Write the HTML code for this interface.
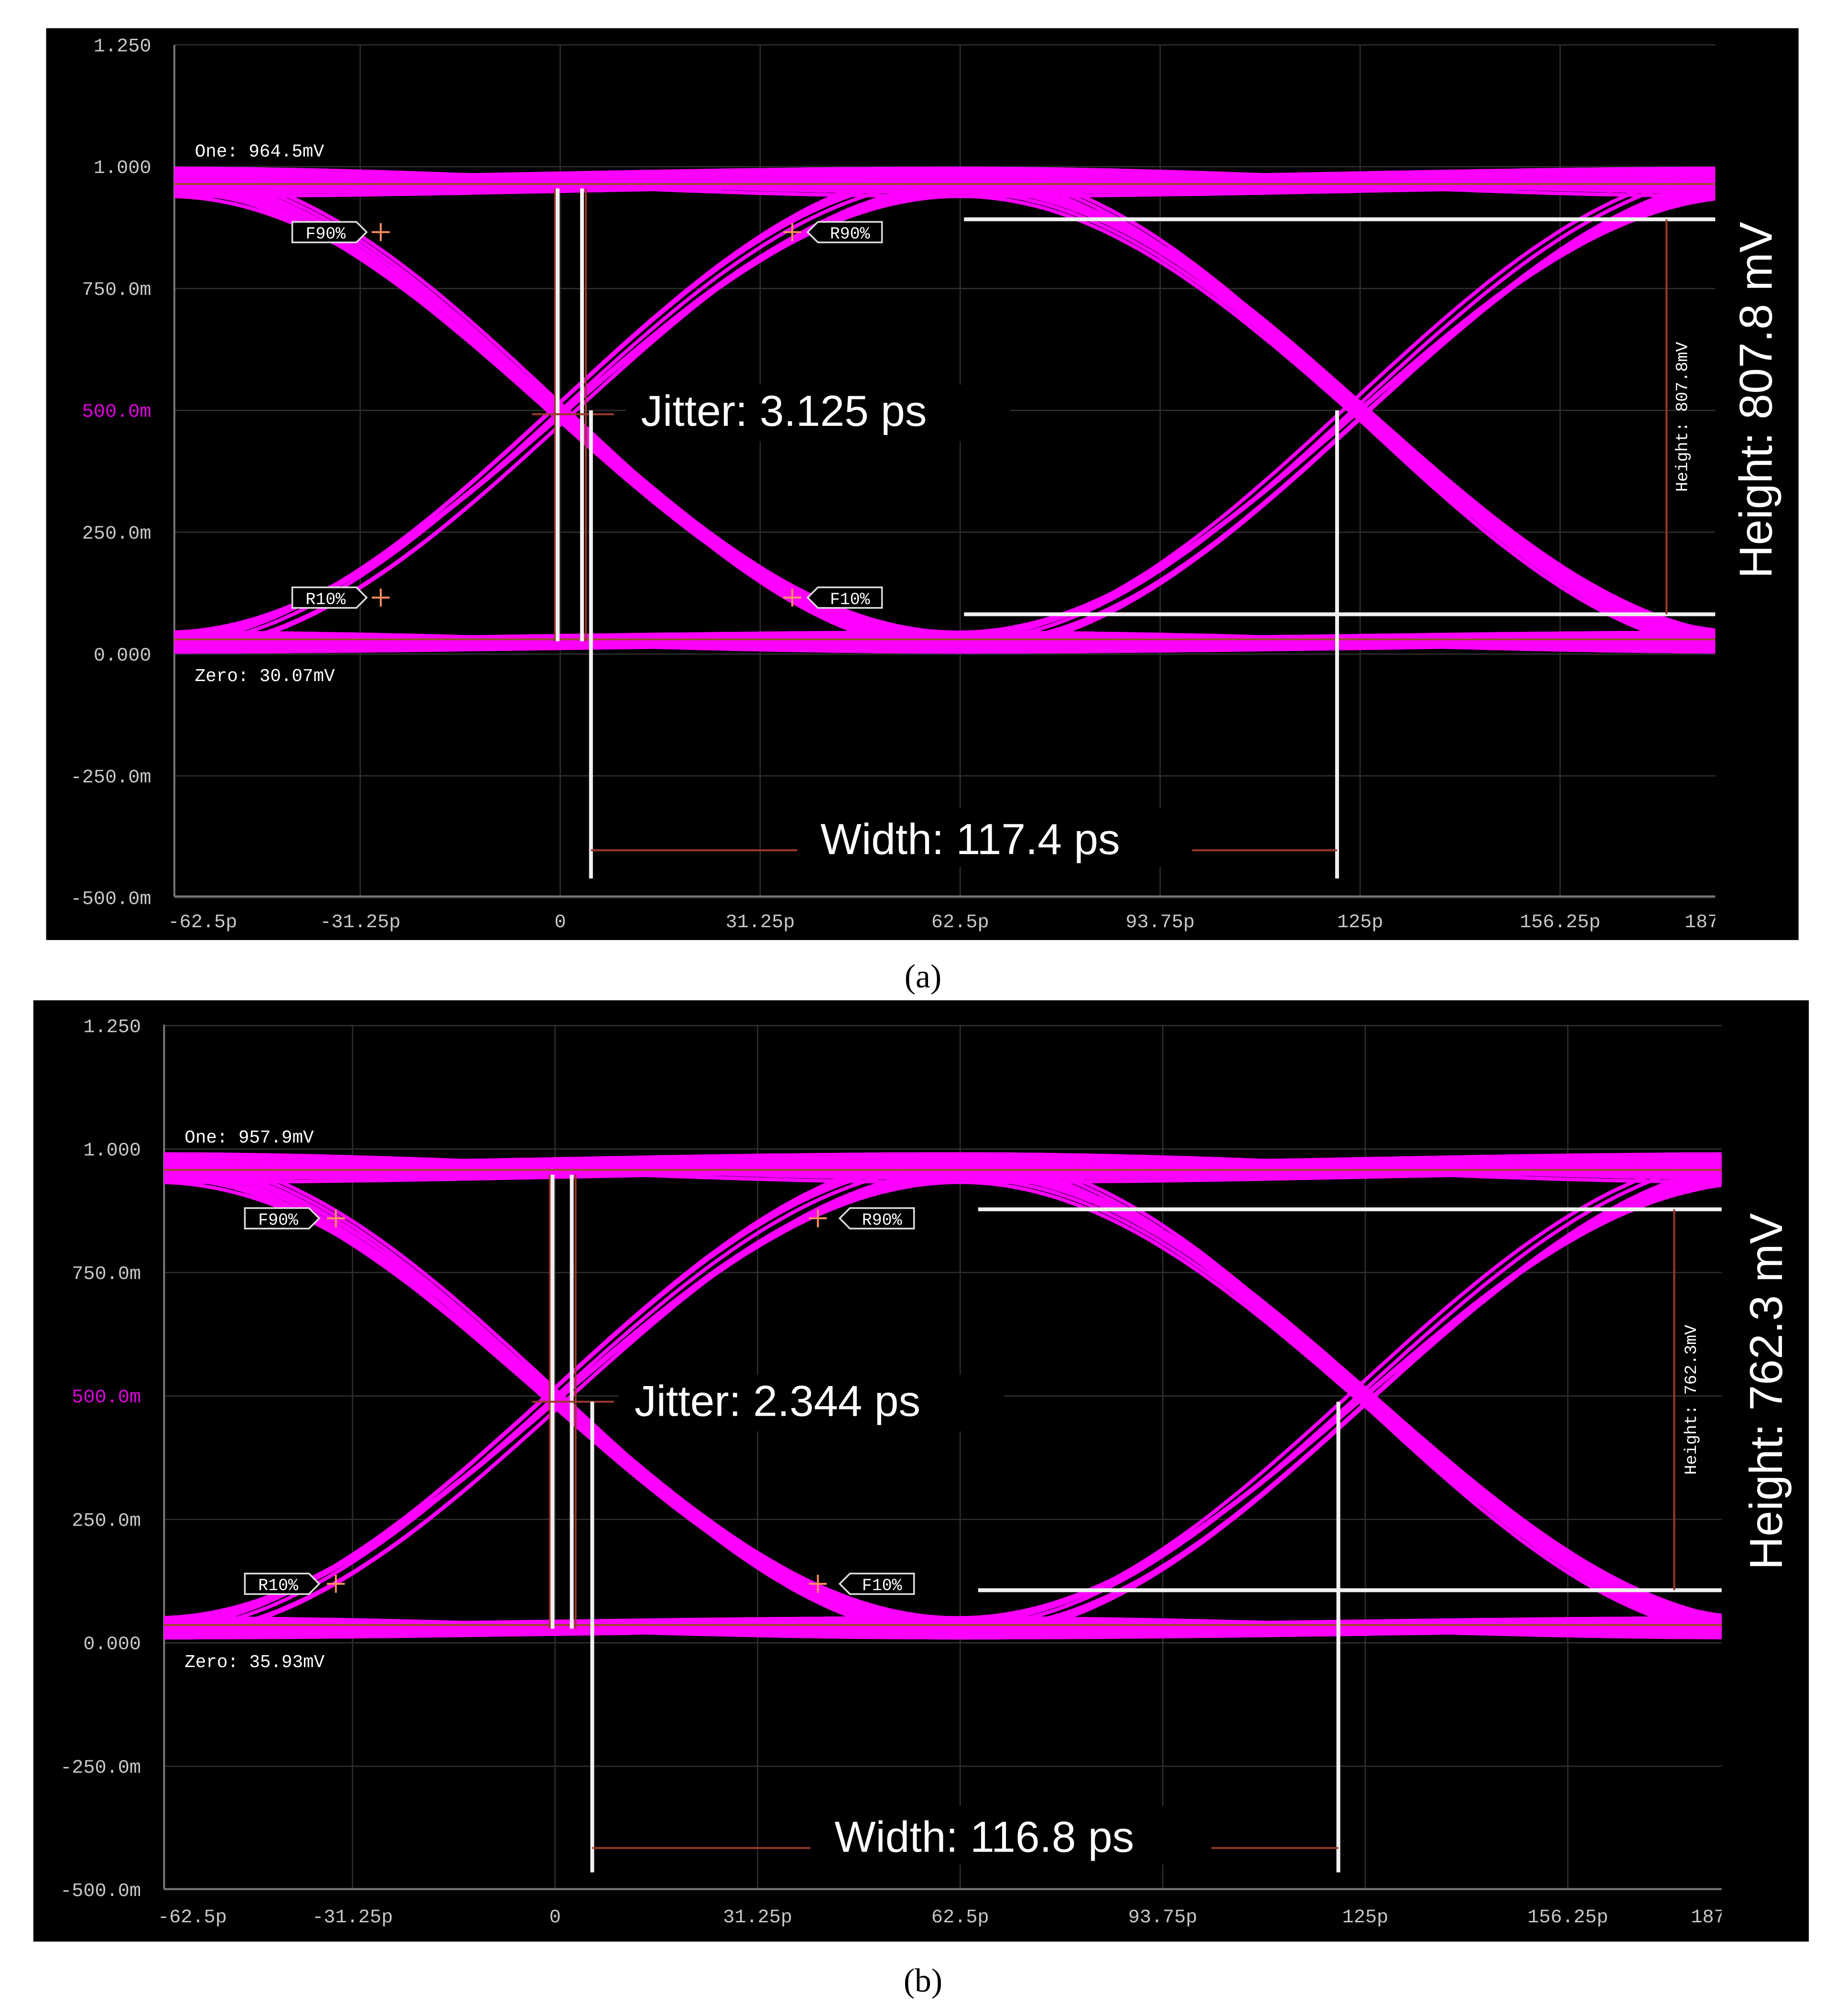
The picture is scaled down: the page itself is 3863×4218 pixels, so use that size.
<!DOCTYPE html>
<html><head><meta charset="utf-8">
<style>
html,body{margin:0;padding:0;background:#fff;}
svg{display:block;}
</style></head>
<body>
<svg id="chart" width="3863" height="4218" viewBox="0 0 1440 1572" preserveAspectRatio="none" xmlns="http://www.w3.org/2000/svg">
<rect x="0" y="0" width="1440" height="1572" fill="#fff"/>
</svg>
<script>
const yTicks = [1.25, 1.0, 0.75, 0.5, 0.25, 0.0, -0.25, -0.5];
const yTickLabels = ["1.250", "1.000", "750.0m", "500.0m", "250.0m", "0.000", "-250.0m", "-500.0m"];
const xTicks = [-62.5, -31.25, 0, 31.25, 62.5, 93.75, 125, 156.25, 187.5];
const xTickLabels = ["-62.5p", "-31.25p", "0", "31.25p", "62.5p", "93.75p", "125p", "156.25p", "187.5p"];
const oneLevels = [0.9645, 0.9579];
const zeroLevels = [0.03007, 0.03593];
const jitterValues = ["3.125 ps", "2.344 ps"];
const widthValues = ["117.4 ps", "116.8 ps"];
const heightValues = ["807.8 mV", "762.3 mV"];
const heightSmall = ["807.8mV", "762.3mV"];
const bitPatterns = [[0,0,0],[0,0,1],[0,1,0],[0,1,1],[1,0,0],[1,0,1],[1,1,0],[1,1,1]];
const levelJitter = [-0.025, -0.017, -0.01, -0.004, 0.0, 0.006, 0.012, 0.018, 0.025, 0.032];
const timeJitter = [-1.6, -1.1, -0.7, -0.3, 0.0, 0.3, 0.7, 1.0, 1.4, -0.5];

const NS = "http://www.w3.org/2000/svg";
const svg = document.getElementById("chart");
function mk(tag, attrs, parent){
  const e = document.createElementNS(NS, tag);
  for (const k in attrs) e.setAttribute(k, attrs[k]);
  (parent || svg).appendChild(e);
  return e;
}

const panels = [
  {bg:[36,22,1367,711], px0:136, px1:1338, py0:35, py1:699, x0:437, sx:156/31.25, y0:510, sy:380,
   ylabX:118, xlabY:723, oneY:122, zeroY:531, labX:152,
   f90:[228,181,297], r90:[630,181,618], r10:[228,466,297], f10:[630,466,618],
   wv1:435, wv2:454, wvTop:147, wvBot:500, wv3:461, wv3Top:320, wv3Bot:685, cross:[437,323],
   jitX:500, jitY:332, hTop:171, hBot:479, hX0:752, wv4:1043, brX:1300, smallHX:1316,
   widthX:640, widthY:664, wLine1:[461,622], wLine2:[930,1043], bigHX:1382, bigHY:312, cap:"(a)", capY:770},
  {bg:[26,780,1385,734], px0:128, px1:1343, py0:799, py1:1473, x0:433, sx:158/31.25, y0:1281, sy:385,
   ylabX:110, xlabY:1499, oneY:891, zeroY:1300, labX:144,
   f90:[191,950,262], r90:[655,950,638], r10:[191,1235,262], f10:[655,1235,638],
   wv1:431, wv2:446, wvTop:916, wvBot:1270, wv3:462, wv3Top:1093, wv3Bot:1460, cross:[437,1093],
   jitX:495, jitY:1104, hTop:943, hBot:1240, hX0:763, wv4:1044, brX:1306, smallHX:1323,
   widthX:651, widthY:1442, wLine1:[462,632], wLine2:[945,1044], bigHX:1390, bigHY:1085, cap:"(b)", capY:1553}
];

function cosInterp(t, centers, levels){
  if (t <= centers[0]) return levels[0];
  for (let i=0;i<centers.length-1;i++){
    if (t>=centers[i] && t<=centers[i+1]){
      const f = (t-centers[i])/(centers[i+1]-centers[i]);
      const w = 0.5-0.5*Math.cos(Math.PI*f);
      return levels[i]+(levels[i+1]-levels[i])*w;
    }
  }
  return levels[levels.length-1];
}

panels.forEach((p, pi) => {
  const g = mk("g", {});
  
  
  const bg = mk("rect", {x:p.bg[0], y:p.bg[1], width:p.bg[2], height:p.bg[3], fill:"#000"}, g);
  
  
  const X = t => p.x0 + t*p.sx;
  const Y = v => p.y0 - v*p.sy;
  const clipId = "clip"+pi;
  const cp = mk("clipPath", {id:clipId}, g);
  mk("rect", {x:p.px0, y:p.py0-8, width:p.px1-p.px0, height:p.py1-p.py0+8}, cp);
  const lclipId = "lclip"+pi;
  const lcp = mk("clipPath", {id:lclipId}, g);
  mk("rect", {x:p.bg[0], y:p.py1, width:p.px1-p.bg[0], height:40}, lcp);

  yTicks.forEach((v,i)=>{
    const l = mk("line", {x1:p.px0, x2:p.px1, y1:Y(v), y2:Y(v), stroke:"#2e2e2e", "stroke-width":1}, g);
    
    
    const t = mk("text", {x:p.ylabX, y:Y(v)+5, "text-anchor":"end", fill:(i===3?"#e000e0":"#c8c8c8"), "font-family":"Liberation Mono, monospace", "font-size":15}, g);
    t.textContent = yTickLabels[i];
    
    
  });
  const xlg = mk("g", {"clip-path":"url(#"+lclipId+")"}, g);
  xTicks.forEach((v,i)=>{
    if (X(v) > p.px0 && X(v) < p.px1){
      const l = mk("line", {x1:X(v), x2:X(v), y1:p.py0, y2:p.py1, stroke:"#2e2e2e", "stroke-width":1}, g);
      
      
    }
    const last = i === xTicks.length-1;
    const t = mk("text", {x:last ? p.px1-24 : Math.max(X(v), p.px0+22), y:p.xlabY, "text-anchor":last?"start":"middle", fill:"#c8c8c8", "font-family":"Liberation Mono, monospace", "font-size":15}, xlg);
    t.textContent = xTickLabels[i];
    
    
  });
  const ax = mk("line", {x1:p.px0, x2:p.px0, y1:p.py0, y2:p.py1, stroke:"#777", "stroke-width":1.5}, g);
  
  
  const ax2 = mk("line", {x1:p.px0, x2:p.px1, y1:p.py1, y2:p.py1, stroke:"#777", "stroke-width":1.5}, g);
  
  

  const tg = mk("g", {"clip-path":"url(#"+clipId+")"}, g);
  
  
  const one = oneLevels[pi], zero = zeroLevels[pi];
  bitPatterns.forEach(bits => {
    for (let k=0;k<levelJitter.length;k++){
      const dt = timeJitter[k];
      const centers = [-187.5+dt, -62.5+dt, 62.5+dt, 187.5+dt, 312.5+dt];
      const b = [bits[0], bits[0], bits[1], bits[2], bits[2]];
      const levels = b.map((bit,i)=> (bit? one : zero) + levelJitter[(k+i*3)%levelJitter.length]*(bit?1:0.7) - (bit?0:0.008));
      let d = "";
      for (let t=-70; t<=195; t+=1.5){
        const v = cosInterp(t, centers, levels);
        d += (d?"L":"M") + X(t).toFixed(1) + "," + Y(v).toFixed(1);
      }
      const path = mk("path", {d:d, fill:"none", stroke:"#ff00ff", "stroke-width":2.8, "stroke-opacity":0.9}, tg);
      
      
    }
  });

  const oneL = mk("line", {x1:p.px0, x2:p.px1, y1:Y(one), y2:Y(one), stroke:"#9a4a30", "stroke-width":1.5}, g);
  
  
  const zeroL = mk("line", {x1:p.px0, x2:p.px1, y1:Y(zero), y2:Y(zero), stroke:"#9a4a30", "stroke-width":1.5}, g);
  
  
  const oneT = mk("text", {x:p.labX, y:p.oneY, fill:"#fff", "font-family":"Liberation Mono, monospace", "font-size":14}, g);
  oneT.textContent = "One: " + (one*1000).toFixed(1) + "mV";
  
  
  const zeroT = mk("text", {x:p.labX, y:p.zeroY, fill:"#fff", "font-family":"Liberation Mono, monospace", "font-size":14}, g);
  zeroT.textContent = "Zero: " + (zero*1000).toFixed(2) + "mV";
  
  

  function marker(spec, txt, leftArrow){
    const [bx, by, px] = spec;
    const w = 58, h = 16;
    let d;
    if (!leftArrow) d = `M${bx},${by-h/2} L${bx+w-8},${by-h/2} L${bx+w},${by} L${bx+w-8},${by+h/2} L${bx},${by+h/2} Z`;
    else d = `M${bx+8},${by-h/2} L${bx+w},${by-h/2} L${bx+w},${by+h/2} L${bx+8},${by+h/2} L${bx},${by} Z`;
    const s = mk("path", {d:d, fill:"#000", stroke:"#ddd", "stroke-width":1.3}, g);
    
    
    const t = mk("text", {x:bx + (leftArrow? 33 : 26), y:by+5, "text-anchor":"middle", fill:"#fff", "font-family":"Liberation Mono, monospace", "font-size":13}, g);
    t.textContent = txt;
    
    
    const c = mk("path", {d:`M${px-7},${by}L${px+7},${by}M${px},${by-7}L${px},${by+7}`, stroke:"#ff9060", "stroke-width":1.5}, g);
    
    
  }
  marker(p.f90, "F90%", false);
  marker(p.r90, "R90%", true);
  marker(p.r10, "R10%", false);
  marker(p.f10, "F10%", true);

  function line(x1,y1,x2,y2,col,w,name){
    const l = mk("line", {x1:x1,y1:y1,x2:x2,y2:y2,stroke:col,"stroke-width":w}, g);
    
    
  }
  line(p.wv1-2, p.wvTop, p.wv1-2, p.wvBot, "#9a3a2a", 1.5, "jitter-red-line");
  line(p.wv2+3, p.wvTop, p.wv2+3, p.wvBot, "#9a3a2a", 1.5, "jitter-red-line");
  line(p.wv1, p.wvTop, p.wv1, p.wvBot, "#f0f0f0", 3, "jitter-left-line");
  line(p.wv2, p.wvTop, p.wv2, p.wvBot, "#f0f0f0", 3, "jitter-right-line");
  line(p.cross[0]-22, p.cross[1], p.cross[0]+42, p.cross[1], "#9a3a2a", 1.5, "crossing-marker");
  line(p.wv3, p.wv3Top, p.wv3, p.wv3Bot, "#f0f0f0", 3, "width-left-line");
  line(p.wv4, p.wv3Top, p.wv4, p.wv3Bot, "#f0f0f0", 3, "width-right-line");
  line(p.hX0, p.hTop, p.px1, p.hTop, "#f0f0f0", 3, "height-top-line");
  line(p.hX0, p.hBot, p.px1, p.hBot, "#f0f0f0", 3, "height-bottom-line");
  line(p.brX, p.hTop, p.brX, p.hBot, "#9a3a2a", 1.5, "height-marker-line");
  line(p.wLine1[0], p.widthY-1, p.wLine1[1], p.widthY-1, "#9a3a2a", 1.5, "width-marker-line");
  line(p.wLine2[0], p.widthY-1, p.wLine2[1], p.widthY-1, "#9a3a2a", 1.5, "width-marker-line");

  const jb = mk("rect", {x:p.jitX-12, y:p.jitY-32, width:300, height:44, fill:"#000"}, g);
  
  
  const jt = mk("text", {x:p.jitX, y:p.jitY, fill:"#fff", "font-family":"Liberation Sans, sans-serif", "font-size":34}, g);
  jt.textContent = "Jitter: " + jitterValues[pi];
  
  
  const wb = mk("rect", {x:p.widthX-12, y:p.widthY-34, width:290, height:46, fill:"#000"}, g);
  
  
  const wt = mk("text", {x:p.widthX, y:p.widthY+2, fill:"#fff", "font-family":"Liberation Sans, sans-serif", "font-size":34}, g);
  wt.textContent = "Width: " + widthValues[pi];
  
  
  const hs = mk("text", {x:p.smallHX, y:(p.hTop+p.hBot)/2, fill:"#fff", "font-family":"Liberation Mono, monospace", "font-size":13, "text-anchor":"middle", transform:`rotate(-90 ${p.smallHX} ${(p.hTop+p.hBot)/2})`}, g);
  hs.textContent = "Height: " + heightSmall[pi];
  
  
  const hb = mk("text", {x:p.bigHX, y:p.bigHY, fill:"#fff", "font-family":"Liberation Sans, sans-serif", "font-size":36, "text-anchor":"middle", transform:`rotate(-90 ${p.bigHX} ${p.bigHY})`}, g);
  hb.textContent = "Height: " + heightValues[pi];
  
  
  const cap = mk("text", {x:720, y:p.capY, fill:"#000", "font-family":"Liberation Serif, serif", "font-size":26, "text-anchor":"middle"}, g);
  cap.textContent = p.cap;
  
  
});
</script>
</body></html>
